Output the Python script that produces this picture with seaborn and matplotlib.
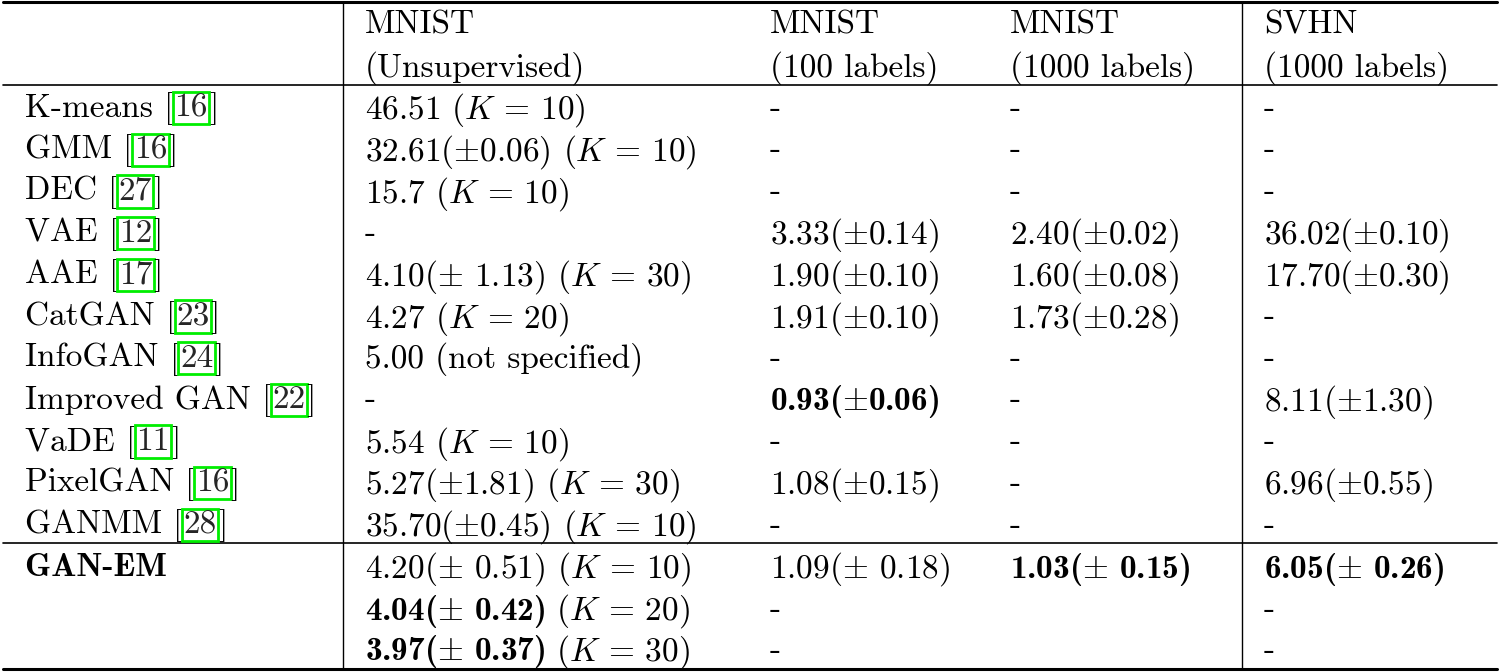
import matplotlib
matplotlib.use("Agg")
import matplotlib.pyplot as plt
import seaborn as sns

sns.set_theme(style="white")
plt.rcParams['mathtext.fontset'] = 'cm'
plt.rcParams['font.family'] = ['cmr10', 'DejaVu Serif']
plt.rcParams['axes.formatter.use_mathtext'] = True

header1 = ["", "MNIST", "MNIST", "MNIST", "SVHN"]
header2 = ["", "(Unsupervised)", "(100 labels)", "(1000 labels)", "(1000 labels)"]
methods = ["K-means", "GMM", "DEC", "VAE", "AAE", "CatGAN", "InfoGAN", "Improved GAN",
           "VaDE", "PixelGAN", "GANMM", "GAN-EM", "", ""]
refs = ["16", "16", "27", "12", "17", "23", "24", "22", "11", "16", "28", "", "", ""]
col1 = [r"46.51 ($K\,=\,10$)", r"32.61($\pm$0.06) ($K\,=\,10$)", r"15.7 ($K\,=\,10$)", "-",
        r"4.10($\pm$ 1.13) ($K\,=\,30$)", r"4.27 ($K\,=\,20$)", "5.00 (not specified)", "-",
        r"5.54 ($K\,=\,10$)", r"5.27($\pm$1.81) ($K\,=\,30$)", r"35.70($\pm$0.45) ($K\,=\,10$)",
        r"4.20($\pm$ 0.51) ($K\,=\,10$)", r"4.04($\pm$ 0.42)|| ($K\,=\,20$)", r"3.97($\pm$ 0.37)|| ($K\,=\,30$)"]
col2 = ["-", "-", "-", r"3.33($\pm$0.14)", r"1.90($\pm$0.10)", r"1.91($\pm$0.10)", "-",
        r"0.93($\pm$0.06)", "-", r"1.08($\pm$0.15)", "-", r"1.09($\pm$ 0.18)", "-", "-"]
col3 = ["-", "-", "-", r"2.40($\pm$0.02)", r"1.60($\pm$0.08)", r"1.73($\pm$0.28)", "-", "-",
        "-", "-", "-", r"1.03($\pm$ 0.15)", "", ""]
col4 = ["-", "-", "-", r"36.02($\pm$0.10)", r"17.70($\pm$0.30)", "-", "-", r"8.11($\pm$1.30)",
        "-", r"6.96($\pm$0.55)", "-", r"6.05($\pm$ 0.26)", "-", "-"]
bold_col2 = [7]
bold_col3 = [11]
bold_col4 = [11]
bold_method = [11]

W, H = 1499, 672
fig = plt.figure(figsize=(W/100, H/100), dpi=100)
ax = fig.add_axes([0, 0, 1, 1])
ax.set_xlim(0, W); ax.set_ylim(H, 0); ax.axis('off')
fs = 24
colx = [25, 365, 770, 1010, 1264]
row_y = [105 + i*41.7 for i in range(11)] + [564, 606, 647]

fig.canvas.draw()
r = fig.canvas.get_renderer()
inv = ax.transData.inverted()

def put(x, y, s, bold=False):
    fam = ['cmb10', 'DejaVu Serif'] if bold else ['cmr10', 'DejaVu Serif']
    t = ax.text(x, y, s, fontsize=fs, family=fam, va='center_baseline', ha='left', color='black')
    bb = t.get_window_extent(r)
    return inv.transform((bb.x1, bb.y0))[0]

def put_cell(x, y, s, bold=False):
    if "||" in s:
        a, b = s.split("||")
        xe = put(x, y, a, bold=True)
        put(xe, y, b, bold=False)
    else:
        put(x, y, s, bold)

for j in range(1, 5):
    put(colx[j], 22, header1[j]); put(colx[j], 64, header2[j])

for i in range(len(methods)):
    y = row_y[i]
    if methods[i]:
        xe = put(colx[0], y, methods[i] + " ", bold=(i in bold_method))
        if refs[i]:
            xe = put(xe, y, "[")
            t = ax.text(xe + 1, y, refs[i], fontsize=fs, va='center_baseline', ha='left',
                        family=['cmr10'], bbox=dict(boxstyle='square,pad=0.05', fc='none', ec='#00ee00', lw=2))
            bb = t.get_window_extent(r)
            xe = inv.transform((bb.x1, bb.y0))[0] + 1
            put(xe, y, "]")
    put_cell(colx[1], y, col1[i])
    put(colx[2], y, col2[i], bold=(i in bold_col2))
    put(colx[3], y, col3[i], bold=(i in bold_col3))
    put(colx[4], y, col4[i], bold=(i in bold_col4))

for yy, lw in [(2, 2.2), (85, 1.2), (543, 1.2), (669, 2.2)]:
    ax.plot([3, 1497], [yy, yy], color='black', lw=lw)
for xx in [343, 1242]:
    ax.plot([xx, xx], [2, 669], color='black', lw=1)

fig.savefig("out.png", dpi=100)
